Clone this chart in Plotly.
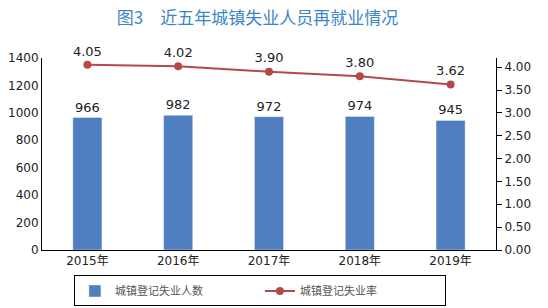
import plotly.graph_objects as go

years = ["2015年", "2016年", "2017年", "2018年", "2019年"]
unemployed = [966, 982, 972, 974, 945]
rate = [4.05, 4.02, 3.90, 3.80, 3.62]
bar_name = "城镇登记失业人数"
line_name = "城镇登记失业率"
title = "图3　近五年城镇失业人员再就业情况"

font_family = "DejaVu Sans, Noto Sans CJK SC"

fig = go.Figure()
fig.add_trace(go.Bar(
    x=years, y=unemployed, name=bar_name,
    marker=dict(color="#4f7fc0"),
    text=[str(v) for v in unemployed], textposition="outside",
    textfont=dict(size=13, color="#222222"),
    cliponaxis=False,
))
fig.add_trace(go.Scatter(
    x=years, y=rate, name=line_name, yaxis="y2",
    mode="lines+markers+text",
    line=dict(color="#b5494a", width=2),
    marker=dict(color="#b5494a", size=8),
    text=[f"{v:.2f}" for v in rate], textposition="top center",
    textfont=dict(size=13, color="#222222"),
    cliponaxis=False,
))

fig.update_layout(
    width=548, height=308,
    margin=dict(l=42, r=52, t=58, b=58, autoexpand=False),
    paper_bgcolor="white", plot_bgcolor="white",
    font=dict(family=font_family, size=12, color="#222222"),
    title=dict(text=title, x=0.47, xanchor="center", y=0.94, yanchor="middle",
               font=dict(size=17, color="#3a86c8", family="Noto Sans CJK SC")),
    bargap=0.68,
    showlegend=True,
    legend=dict(orientation="h", x=0.48, xanchor="center",
                yref="container", y=0.005, yanchor="bottom",
                bordercolor="black", borderwidth=1,
                font=dict(size=11, color="#555555", family="Noto Sans CJK SC"),
                itemwidth=30, entrywidth=140,
                tracegroupgap=0),
    xaxis=dict(showline=True, linecolor="black", linewidth=1, ticks="",
               tickfont=dict(size=12, color="#222222")),
    yaxis=dict(range=[0, 1400], dtick=200, showgrid=False, showline=True,
               linecolor="black", linewidth=1, ticks="", zeroline=False,
               tickfont=dict(size=12, color="#222222")),
    yaxis2=dict(range=[0, 4.2], tickvals=[0, 0.5, 1, 1.5, 2, 2.5, 3, 3.5, 4],
                tickformat=".2f", overlaying="y", side="right",
                showgrid=False, showline=True, linecolor="black", linewidth=1,
                ticks="outside", ticklen=5, tickcolor="black", zeroline=False,
                tickfont=dict(size=12, color="#222222")),
)

fig.write_html("out.html")
